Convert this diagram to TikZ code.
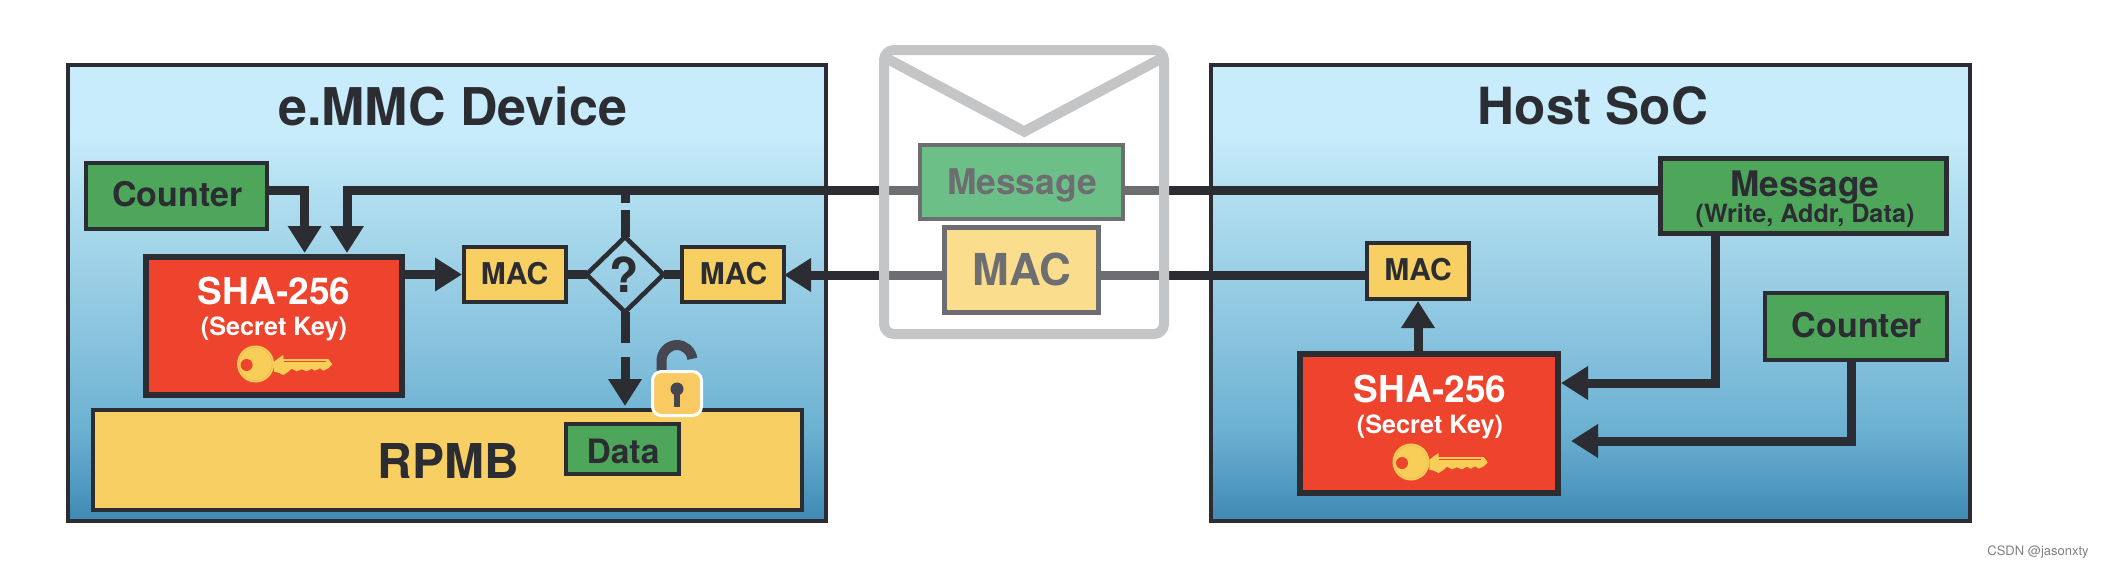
\documentclass[tikz,border=0pt]{standalone}
\usepackage{fontspec}
\setmainfont{TeX Gyre Heros}
\usetikzlibrary{arrows.meta,shapes.geometric}
\definecolor{dk}{HTML}{2B2D33}
\definecolor{gr}{HTML}{4EA65A}
\definecolor{rd}{HTML}{EE442D}
\definecolor{yl}{HTML}{F7CF62}
\definecolor{gy}{HTML}{6D6E71}
\definecolor{eg}{HTML}{C4C5C7}
\definecolor{gl}{HTML}{6DBF88}
\definecolor{yll}{HTML}{FADE8E}
\definecolor{pA}{HTML}{C8ECFB}
\definecolor{pC}{HTML}{B2DFF1}
\definecolor{pD}{HTML}{9CD0E6}
\definecolor{pE}{HTML}{85C1DD}
\definecolor{pF}{HTML}{6CB1D2}
\definecolor{pG}{HTML}{3E8AB5}
\definecolor{ky}{HTML}{F9CE58}
\definecolor{kr}{HTML}{F2B84C}
\definecolor{lk}{HTML}{F9C962}
\definecolor{sh}{HTML}{454650}
\pgfdeclareverticalshading{panelgrad}{100bp}{color(0bp)=(pG); color(25bp)=(pG); color(35.1bp)=(pF); color(43.8bp)=(pE); color(52.5bp)=(pD); color(61.2bp)=(pC); color(67.7bp)=(pA); color(75bp)=(pA); color(100bp)=(pA)}
\tikzset{
  pbox/.style n args={4}{minimum width={(#3-#1)*0.5pt}, minimum height={(#4-#2)*0.5pt}, at={({(#1+#3)/2},{(#2+#4)/2})}},
  plain/.style={draw=dk, inner sep=0pt, outer sep=0pt, rectangle},
  panel/.style={plain, line width=2pt, shading=panelgrad},
  greenbox/.style={plain, line width=2pt, fill=gr},
  shabox/.style={plain, line width=3pt, fill=rd},
  macbox/.style={plain, line width=2pt, fill=yl},
  conn/.style={draw=dk, line width=4.5pt},
  arr/.style={conn, -{Triangle[length=13.5pt,width=16pt]}},
  grayline/.style={draw=gy, line width=4.5pt},
  txt/.style={anchor=base, inner sep=0pt, outer sep=0pt, font=\bfseries, text=dk},
  keypic/.pic={
    \fill[ky] (18.4,-2.3) -- (22.7,-5.7) -- (27.7,-9) -- (27.7,-5) -- (72.7,-5) -- (76.7,0.3) -- (72.7,4.3) -- (67.7,6.7) -- (64.4,4.3) -- (59.4,6.7) -- (56,4.7) -- (51,7.3) -- (46,5.3) -- (41,7.3) -- (36,4.7) -- (32.7,7.7) -- (27.7,11) -- (22.7,8.7) -- (18.4,7.7) -- cycle;
    \fill[ky] (0,0) circle [radius=18.5];
    \draw[kr, line width=0.25pt] (0,0) circle [radius=16.5];
    \fill[rd] (-9,1) circle [radius=6];
    \draw[rd, line width=0.5pt] (28,-3) -- (70,-3);
  }
}
\begin{document}
\begin{tikzpicture}[x=0.5pt,y=-0.5pt]
\useasboundingbox (0,0) rectangle (2104,568);
\fill[white] (0,0) rectangle (2104,568);
% panels
\node (devP) [panel, pbox={68}{65.3}{826}{521}] {};
\node (hostP) [panel, pbox={1211}{65.3}{1970}{521}] {};
% helper coordinates
\coordinate (yT) at (0,190);
\coordinate (yB) at (0,275);
\coordinate (inA) at (304.6,253);
\coordinate (inB) at (347,253);
\coordinate (inC) at (1571,441);
\coordinate (xM) at (1715,0);
\coordinate (xC) at (1851,0);
\coordinate (dn) at (625,406);
\coordinate (vL) at (884,57);
\coordinate (vM) at (1024.3,131.5);
\coordinate (vR) at (1164,57);
% connectors
\node (ctrL) [greenbox, pbox={86}{163}{267}{229}] {};
\node (shaL) [shabox, pbox={146}{257}{402}{395}] {};
\node (macA) [macbox, pbox={464}{247}{565.5}{302}] {};
\node (macB) [macbox, pbox={682}{247}{784}{302}] {};
\node (dia) [diamond, draw=dk, line width=2.3pt, inner sep=0pt, outer sep=0pt, minimum width=38.5pt, minimum height=37.5pt, aspect=1] at (625,274.5) {};
\node (msgH) [greenbox, line width=2.5pt, pbox={1660.5}{158}{1946.5}{233.5}] {};
\node (macH) [macbox, pbox={1367}{243}{1469}{299}] {};
\node (shaR) [shabox, pbox={1300}{354}{1558}{492.5}] {};
\node (ctrH) [greenbox, pbox={1765}{293}{1947}{359.5}] {};
\node (rpmb) [macbox, pbox={92.5}{410}{802}{509.5}] {};
\node (dataN) [greenbox, pbox={566}{424}{679}{474}] {};
\draw[arr] (msgH.west |- yT) -| (inB);
\draw[arr] (ctrL.east |- yT) -| (inA);
\draw[arr, shorten >=1pt] (shaL.east |- macA.west) -- (macA.west);
\draw[conn] (macA.east) -- (dia.west);
\draw[conn] (dia.east) -- (macB.west);
\draw[arr] (macH.west |- yB) -- (macB.east |- yB);
\draw[arr, shorten >=1pt] (macH.south |- shaR.north) -- (macH.south);
\draw[arr, shorten >=1.5pt] (xM |- msgH.south) |- (shaR.east |- 0,383);
\draw[arr] (xC |- ctrH.south) |- (inC);
\draw[conn, dash pattern=on 6.5pt off 3.5pt on 40pt] (dia.north |- yT) -- (dia.north);
\draw[arr, dash pattern=on 15.5pt off 7pt on 100pt] (dia.south) -- (dn);
% boxes above connector ends
\node (macAtop) [macbox, pbox={464}{247}{565.5}{302}] {};
\node (macBtop) [macbox, pbox={682}{247}{784}{302}] {};
\node (macHtop) [macbox, pbox={1367}{243}{1469}{299}] {};
\node (ctrLtop) [greenbox, pbox={86}{163}{267}{229}] {};
\node (msgHtop) [greenbox, line width=2.5pt, pbox={1660.5}{158}{1946.5}{233.5}] {};
\node (ctrHtop) [greenbox, pbox={1765}{293}{1947}{359.5}] {};
\node (shaLtop) [shabox, pbox={146}{257}{402}{395}] {};
\node (shaRtop) [shabox, pbox={1300}{354}{1558}{492.5}] {};
% envelope
\node (env) [rectangle, fill=white, rounded corners=5pt, inner sep=0pt, outer sep=0pt, pbox={884}{50}{1164}{334}] {};
\draw[grayline] (env.west |- yT) -- (env.east |- yT);
\draw[grayline] (env.west |- yB) -- (env.east |- yB);
\node (envB) [rectangle, draw=eg, line width=5pt, rounded corners=5pt, inner sep=0pt, outer sep=0pt, pbox={884}{50}{1164}{334}] {};
\draw[draw=eg, line width=5.2pt, miter limit=10] (vL) -- (vM) -- (vR);
\node (envMsg) [rectangle, draw=gy, fill=gl, line width=2pt, inner sep=0pt, pbox={920}{145}{1123}{219}] {};
\node (envMac) [rectangle, draw=gy, fill=yll, line width=2.5pt, inner sep=0pt, pbox={944.5}{227.5}{1098.5}{312.5}] {};
% texts
\node (tDev) [txt, font=\fontsize{26pt}{26pt}\bfseries] at (452.6,125) {e.MMC Device};
\node (tHost) [txt, font=\fontsize{25.6pt}{25.6pt}\bfseries] at (1593,124) {Host SoC};
\node (tCtrL) [txt, font=\fontsize{17pt}{17pt}\bfseries] at (177.5,206) {Counter};
\node (tCtrH) [txt, font=\fontsize{17pt}{17pt}\bfseries] at (1857,337) {Counter};
\node (tShaL) [txt, font=\fontsize{18.5pt}{18.5pt}\bfseries, text=white] at (274,304) {SHA-256};
\node (tKeyL) [txt, font=\fontsize{12.6pt}{12.6pt}\bfseries, text=white] at (274,335) {(Secret Key)};
\node (tShaR) [txt, font=\fontsize{18.5pt}{18.5pt}\bfseries, text=white] at (1430,402) {SHA-256};
\node (tKeyR) [txt, font=\fontsize{12.6pt}{12.6pt}\bfseries, text=white] at (1430,433) {(Secret Key)};
\node (tMacA) [txt, font=\fontsize{15pt}{15pt}\bfseries] at (514.5,284.5) {MAC};
\node (tMacB) [txt, font=\fontsize{15pt}{15pt}\bfseries] at (733.5,284.5) {MAC};
\node (tMacH) [txt, font=\fontsize{15pt}{15pt}\bfseries] at (1418,280) {MAC};
\node (tQ) [txt, font=\fontsize{24pt}{24pt}\bfseries] at (624,292.7) {?};
\node (tRpmb) [txt, font=\fontsize{24pt}{24pt}\bfseries] at (448,478) {RPMB};
\node (tData) [txt, font=\fontsize{16.8pt}{16.8pt}\bfseries] at (623,463) {Data};
\node (tMsgH) [txt, font=\fontsize{17.6pt}{17.6pt}\bfseries] at (1805,196) {Message};
\node (tMsgS) [txt, font=\fontsize{12.6pt}{12.6pt}\bfseries] at (1805,222) {(Write, Addr, Data)};
\node (tMsgE) [txt, font=\fontsize{17.7pt}{17.7pt}\bfseries, text=gy] at (1022,194) {Message};
\node (tMacE) [txt, font=\fontsize{22pt}{22pt}\bfseries, text=gy] at (1022,285.7) {MAC};
\node (wm) [anchor=base, inner sep=0pt, font=\fontsize{6.5pt}{6.5pt}\selectfont, text=black!50] at (2038,555.5) {CSDN @jasonxty};
% keys
\pic at (255.6,364) {keypic};
\pic at (1411,462) {keypic};
% lock
\draw[sh, line width=5pt] (661.5,375) -- (661.5,361) arc [start angle=180, end angle=352, x radius=15.5, y radius=16];
\node (lockB) [rectangle, draw=white, fill=lk, line width=1.5pt, rounded corners=4.5pt, inner sep=0pt, pbox={652.5}{371.5}{701.5}{415.5}] {};
\fill[sh] (lockB.center) ++(0,-4.5) circle [radius=6.5];
\fill[sh] (674,389) rectangle (680,407);
\end{tikzpicture}
\end{document}
